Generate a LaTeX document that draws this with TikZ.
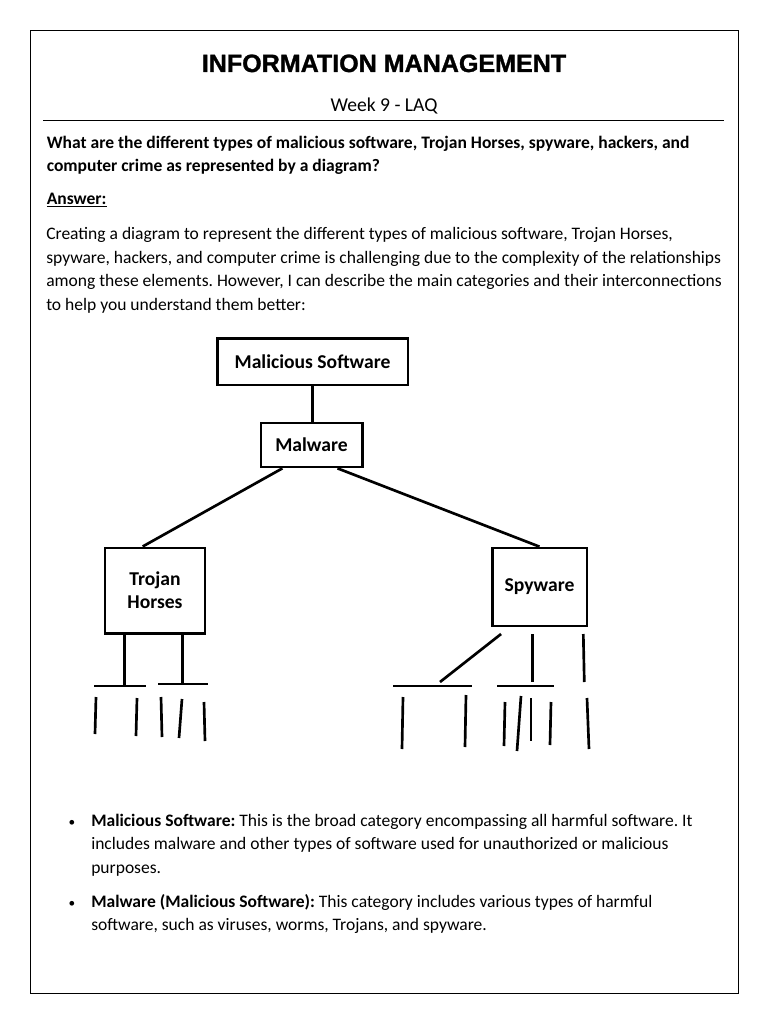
\documentclass[tikz,border=0pt]{standalone}
\usepackage{fontspec}
\setmainfont{Carlito}
\newfontfamily\headfont{Liberation Sans}[BoldFeatures={FakeBold=1.2}]
\usepackage{xcolor}
\usepackage{tikz}
\usetikzlibrary{positioning, calc}
\frenchspacing
\providecommand{\txtsize}{\fontsize{13.15}{15.5}\selectfont}
\providecommand{\boxsize}{\fontsize{14.7}{17.5}\selectfont}
\tikzset{
  % Riquadri del diagramma
  block/.style={draw,line width=2pt,inner sep=0,align=center,font=\boxsize\bfseries},
  % Collegamenti e tratti sotto i riquadri
  connect/.style={line width=2pt},
  twig/.style={line width=2pt},
  % Righe di testo
  txt/.style={anchor=base west,inner sep=0,font=\txtsize},
  txt bold/.style={txt,font=\txtsize\bfseries}
}

\begin{document}
\begin{tikzpicture}[x=0.75pt,y=-0.75pt]
    \useasboundingbox (0,0) rectangle (768,1024);
    \draw[line width=0.75pt] (30,31) rectangle (738,993);
    \node[anchor=base,inner sep=0,font=\headfont\fontsize{18.8}{22}\selectfont\bfseries] (title) at (384,72) {INFORMATION MANAGEMENT};
    \node[anchor=base,inner sep=0,font=\boxsize] (week) at (384,111) {Week 9 - LAQ};
    \coordinate (rl) at (43,120.5);
    \coordinate (rr) at (724,120.5);
    \draw[line width=1pt] (rl) -- (rr);
    \node[txt bold] (q1) at (46.5,148) {What are the different types of malicious software, Trojan Horses, spyware, hackers, and};
    \node[txt bold] (q2) at (46.5,171) {computer crime as represented by a diagram?};
    \node[txt bold] (ans) at (46.5,204) {\underline{Answer:}};
    \node[txt] (p1) at (46,239.5) {Creating a diagram to represent the different types of malicious software, Trojan Horses,};
    \node[txt] (p2) at (46,263) {spyware, hackers, and computer crime is challenging due to the complexity of the relationships};
    \node[txt] (p3) at (46,286.5) {among these elements. However, I can describe the main categories and their interconnections};
    \node[txt] (p4) at (46,310) {to help you understand them better:};
    \node[block,minimum width=143pt,minimum height=35pt] (ms) at (312.5,361.5) {Malicious Software};
    \node[block,minimum width=76pt,minimum height=33pt] (mw) at (311.5,445) {Malware};
    \node[block,minimum width=75pt,minimum height=64pt] (th) at (155,590.5) {Trojan\\Horses};
    \node[block,minimum width=71pt,minimum height=58.5pt] (sp) at (539.5,587) {Spyware};
    \draw[connect] (ms.south) -- (ms.south |- mw.north);
    \draw[connect] ($(mw.south west)!0.22!(mw.south east)$) -- ($(th.north west)!0.38!(th.north east)$);
    \draw[connect] ($(mw.south west)!0.75!(mw.south east)$) -- (sp.north);
    \coordinate (ta) at (94,686);
    \coordinate (tb) at (146,686);
    \coordinate (tc) at (158,684);
    \coordinate (td) at (208,684);
    \coordinate (t1) at ($(th.south west)!0.2!(th.south east)$);
    \coordinate (t2) at ($(th.south west)!0.77!(th.south east)$);
    \draw[connect] (t1) -- (t1 |- ta);
    \draw[connect] (t2) -- (t2 |- tc);
    \draw[connect] (ta) -- (tb);
    \draw[connect] (tc) -- (td);
    \coordinate (sa) at (393,686);
    \coordinate (sb) at (472,686);
    \coordinate (sc) at (497,686);
    \coordinate (sd) at (554,686);
    \coordinate (se) at (440,682);
    \coordinate (s1) at ([yshift=-5pt]$(sp.south west)!0.105!(sp.south east)$);
    \coordinate (s2) at ([yshift=-5pt]$(sp.south west)!0.43!(sp.south east)$);
    \coordinate (s3) at ([yshift=-5pt]$(sp.south west)!0.95!(sp.south east)$);
    \draw[connect] (s1) -- (se);
    \draw[connect] (s2) -- ++(0,48);
    \draw[connect] (s3) -- ++(1,48);
    \draw[connect] (sa) -- (sb);
    \draw[connect] (sc) -- (sd);
    \foreach \xa/\ya/\xb/\yb in {96/697/95/734, 137/698/136/736, 161/697/162/737, 182/699/179/738, 204/702/205/741,
        403/697/402/749, 466/695/465/747, 505/702/504/746, 521/696/517/751, 531/698/531/741, 551/702/550/745, 587/698/589/749}
      \draw[twig] (\xa,\ya) -- (\xb,\yb);
    \node[anchor=base,inner sep=0,font=\fontsize{10}{12}\selectfont] (d1) at (72,826) {•};
    \node[anchor=base,inner sep=0,font=\fontsize{10}{12}\selectfont] (d2) at (72,907) {•};
    \node[txt] (b1) at (91,826) {\textbf{Malicious Software:} This is the broad category encompassing all harmful software. It};
    \node[txt] (b2) at (91,849.5) {includes malware and other types of software used for unauthorized or malicious};
    \node[txt] (b3) at (91,873) {purposes.};
    \node[txt] (b4) at (91,907) {\textbf{Malware (Malicious Software):} This category includes various types of harmful};
    \node[txt] (b5) at (91,930.5) {software, such as viruses, worms, Trojans, and spyware.};
  \end{tikzpicture}
\end{document}
